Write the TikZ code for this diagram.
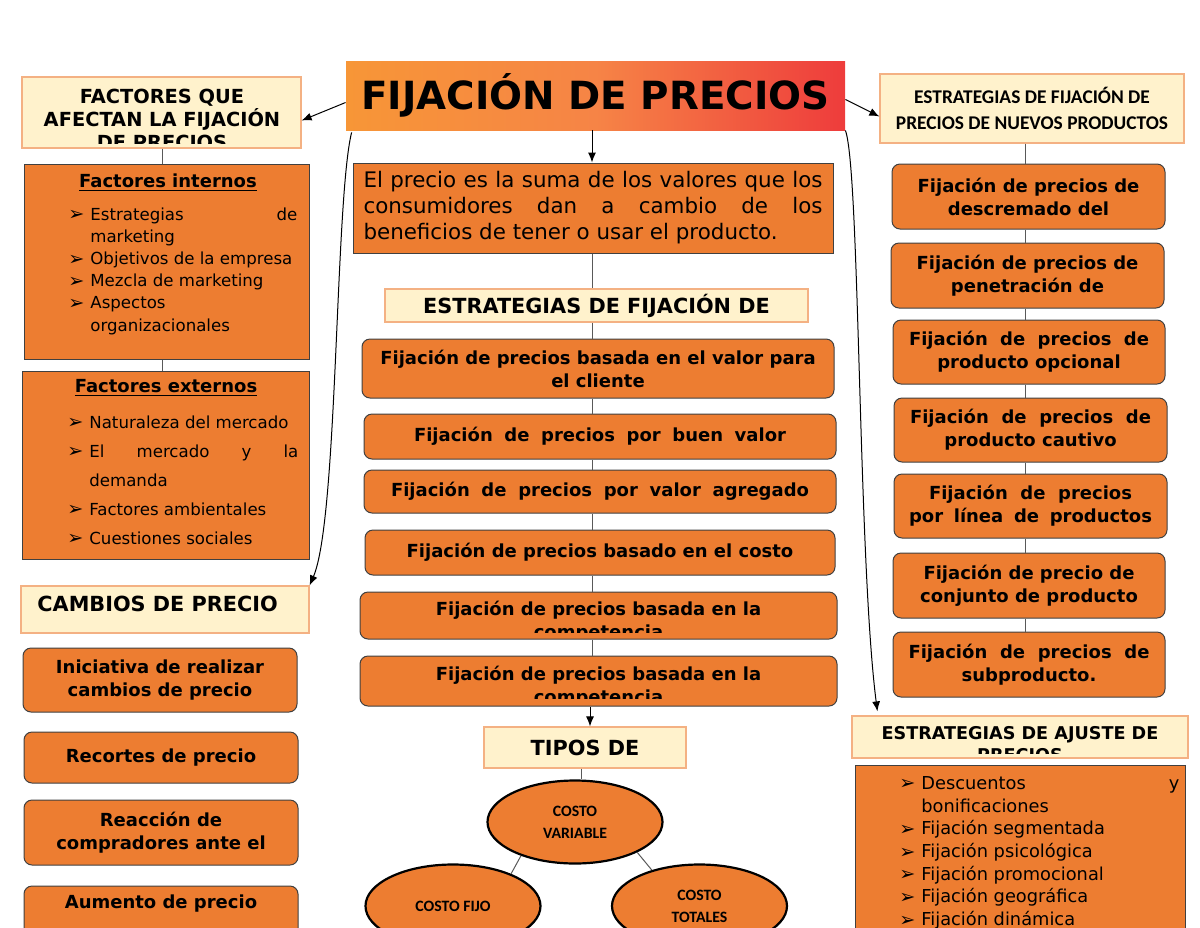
\documentclass[tikz,border=0pt]{standalone}
\usepackage{fontspec}
\setmainfont{DejaVu Sans}
\newfontfamily\calib{Carlito}
\usetikzlibrary{arrows.meta,shapes.geometric}
\definecolor{naranja}{HTML}{ED7D31}
\definecolor{crema}{HTML}{FFF2CC}
\definecolor{bordecrema}{HTML}{F4B183}
\definecolor{bordeoscuro}{HTML}{404040}
\definecolor{tituloizq}{RGB}{247,150,55}
\definecolor{titulomed}{RGB}{246,132,70}
\definecolor{tituloder}{RGB}{238,60,60}
\hyphenpenalty=10000
\newcommand{\spread}[2]{\makebox[#1][s]{#2}}
\newcommand{\blt}{\makebox[11pt][l]{\raisebox{-0.3pt}{\fontsize{9.6}{9.6}\selectfont ➢}}}
\newcommand{\ind}{\makebox[11pt]{}}

\begin{document}
\begin{tikzpicture}[x=0.5pt, y=-0.5pt,
  hdrfont/.style={font=\bfseries\fontsize{10.4}{12}\selectfont},
  hdr/.style={rectangle, draw=bordecrema, fill=crema, line width=0.6pt, inner sep=0pt, hdrfont},
  obox/.style={rectangle, draw=bordeoscuro, fill=naranja, line width=0.5pt, inner sep=0pt},
  rbox/.style={obox, rounded corners=4pt, align=center, font=\bfseries\fontsize{9}{11.5}\selectfont},
  costo/.style={ellipse, draw=black, fill=naranja, line width=1.1pt, inner sep=0pt, align=center,
    minimum width=87.5pt, minimum height=41.5pt, font=\calib\bfseries\fontsize{7.9}{11}\selectfont},
  lista/.style={inner sep=0pt, anchor=north west, align=left, font=\fontsize{8.3}{11.1}\selectfont},
  link/.style={draw=black!65, line width=0.5pt},
  flecha/.style={draw=black, line width=0.5pt, -{Latex[length=5pt,width=4pt]}}]

\useasboundingbox (0,0) rectangle (1200,927);
\clip (0,0) rectangle (1200,927);

\coordinate (ejei) at (162,0);
\coordinate (ejec) at (592,0);
\coordinate (ejet) at (590,0);
\coordinate (ejev) at (581,0);
\coordinate (ejed) at (1025,0);

% titulo
\node[rectangle, left color=tituloizq, right color=tituloder, middle color=titulomed,
  minimum width=249.5pt, minimum height=34.5pt, inner sep=0pt,
  font=\bfseries\fontsize{19.4}{22}\selectfont] (titulo) at (595.5,95.5) {FIJACIÓN DE PRECIOS};

% columna izquierda
\node[hdr, minimum width=139.5pt, minimum height=35.5pt] (hdrfac) at (161.5,112.5) {};
\begin{scope}
  \clip (22,77) rectangle (301,143);
  \node[align=center, inner sep=0pt, font=\bfseries\fontsize{9.7}{11.5}\selectfont] (hdrfactxt) at (162,119)
    {FACTORES QUE\\AFECTAN LA FIJACIÓN\\DE PRECIOS};
\end{scope}

\node[obox, minimum width=142.5pt, minimum height=97.5pt] (interno) at (166.5,261.5) {};
\node[font=\bfseries\fontsize{9}{11}\selectfont] (internotit) at (168,183) {\underline{Factores internos}};
\node[lista] (internolst) at (68,207)
  {\blt\spread{103.5pt}{Estrategias de}\\\ind marketing\\\blt Objetivos de la empresa\\
   \blt Mezcla de marketing\\\blt Aspectos\\\ind organizacionales};

\node[obox, minimum width=143.5pt, minimum height=94pt] (externo) at (165.5,465) {};
\node[font=\bfseries\fontsize{9}{11}\selectfont] (externotit) at (166,388) {\underline{Factores externos}};
\node[lista, font=\fontsize{8.3}{14.5}\selectfont] (externolst) at (67,415)
  {\blt Naturaleza del mercado\\\blt\spread{104.5pt}{El mercado y la}\\\ind demanda\\
   \blt Factores ambientales\\\blt Cuestiones sociales};

\node[hdr, minimum width=144pt, minimum height=23.5pt] (cambios) at (165,609.5) {};
\node[anchor=west, inner sep=0pt, hdrfont] (cambiostxt) at (37,604) {CAMBIOS DE PRECIO};

\node[rbox, minimum width=137pt, minimum height=32pt] (iniciativa) at (160,680) {Iniciativa de realizar\\cambios de precio};
\node[rbox, minimum width=137pt, minimum height=25.5pt] (recortes) at (161,757.5) {Recortes de precio};
\node[rbox, minimum width=137pt, minimum height=32.5pt] (reaccion) at (161,832.5) {Reacción de\\compradores ante el};
\node[rbox, minimum width=137pt, minimum height=32pt] (aumento) at (161,918) {};
\node[font=\bfseries\fontsize{9}{11.5}\selectfont] (aumentotxt) at (161,904) {Aumento de precio};

% columna central
\node[obox, minimum width=240pt, minimum height=45pt, align=left, font=\fontsize{10.7}{13}\selectfont] (defin) at (593,208)
  {\spread{229.5pt}{El precio es la suma de los valores que los}\\
   \spread{229.5pt}{consumidores dan a cambio de los}\\
   beneficios de tener o usar el producto.};

\node[hdr, minimum width=211.5pt, minimum height=16.5pt] (estfij) at (596.5,305.5) {ESTRATEGIAS DE FIJACIÓN DE};

\node[rbox, minimum width=236pt, minimum height=29.5pt] (c1) at (598,368.5) {Fijación de precios basada en el valor para\\el cliente};
\node[rbox, minimum width=236pt, minimum height=22.5pt] (c2) at (600,436.5) {\spread{186pt}{Fijación de precios por buen valor}};
\node[rbox, minimum width=236pt, minimum height=21.5pt] (c3) at (600,491.5) {\spread{209pt}{Fijación de precios por valor agregado}};
\node[rbox, minimum width=235pt, minimum height=22.5pt] (c4) at (600,552.5) {Fijación de precios basado en el costo};
\node[rbox, minimum width=238.5pt, minimum height=23.5pt] (c5) at (598.5,615.5) {};
\node[rbox, minimum width=238.5pt, minimum height=25pt] (c6) at (598.5,681) {};
\begin{scope}
  \clip (360,592) rectangle (837,632);
  \node[align=center, inner sep=0pt, font=\bfseries\fontsize{9}{11.5}\selectfont] (c5txt) at (598.5,622)
    {Fijación de precios basada en la\\competencia};
\end{scope}
\begin{scope}
  \clip (360,656) rectangle (837,698);
  \node[align=center, inner sep=0pt, font=\bfseries\fontsize{9}{11.5}\selectfont] (c6txt) at (598.5,687)
    {Fijación de precios basada en la\\competencia};
\end{scope}

\node[hdr, minimum width=101pt, minimum height=20.5pt] (tipos) at (585,747.5) {TIPOS DE};

\node[costo] (var) at (575,822) {COSTO\\VARIABLE};
\node[costo] (fijo) at (453,906) {COSTO FIJO};
\node[costo] (tot) at (699.5,906) {COSTO\\TOTALES};

% columna derecha
\node[hdr, minimum width=152pt, minimum height=34.5pt, align=center,
  font=\calib\bfseries\fontsize{9.7}{13}\selectfont] (hdrnew) at (1032,108.5)
  {ESTRATEGIAS DE FIJACIÓN DE\\PRECIOS DE NUEVOS PRODUCTOS};

\node[rbox, minimum width=136.5pt, minimum height=32.5pt] (r1) at (1028.5,196.5) {Fijación de precios de\\descremado del};
\node[rbox, minimum width=136.5pt, minimum height=32.5pt] (r2) at (1027.5,275.5) {Fijación de precios de\\penetración de};
\node[rbox, minimum width=136pt, minimum height=32pt] (r3) at (1029,352) {\spread{120pt}{Fijación de precios de}\\producto opcional};
\node[rbox, minimum width=136.5pt, minimum height=32pt] (r4) at (1030.5,430) {\spread{120.5pt}{Fijación de precios de}\\producto cautivo};
\node[rbox, minimum width=136.5pt, minimum height=32pt] (r5) at (1030.5,506) {\spread{101.5pt}{Fijación de precios}\\\spread{121.5pt}{por línea de productos}};
\node[rbox, minimum width=136pt, minimum height=32.5pt] (r6) at (1029,585.5) {Fijación de precio de\\conjunto de producto};
\node[rbox, minimum width=136pt, minimum height=32.5pt] (r7) at (1029,664.5) {\spread{120.5pt}{Fijación de precios de}\\subproducto.};

\node[hdr, minimum width=168pt, minimum height=21pt] (hdradj) at (1020,737) {};
\begin{scope}
  \clip (852,716) rectangle (1188,753);
  \node[align=center, inner sep=0pt, font=\bfseries\fontsize{8.8}{11}\selectfont] (hdradjtxt) at (1020,744)
    {ESTRATEGIAS DE AJUSTE DE\\PRECIOS};
\end{scope}
\node[obox, minimum width=165pt, minimum height=85pt] (ajuste) at (1020,850) {};
\node[lista, font=\fontsize{8.9}{11.35}\selectfont] (ajustelst) at (899,776)
  {\blt\spread{129pt}{Descuentos y}\\\ind bonificaciones\\\blt Fijación segmentada\\
   \blt Fijación psicológica\\\blt Fijación promocional\\\blt Fijación geográfica\\\blt Fijación dinámica};

% conectores
\draw[link] (hdrfac.south -| ejei) -- (interno.north -| ejei);
\draw[link] (interno.south -| ejei) -- (externo.north -| ejei);
\foreach \a/\b in {defin/estfij, estfij/c1, c1/c2, c2/c3, c3/c4, c4/c5, c5/c6}
  \draw[link] (\a.south -| ejec) -- (\b.north -| ejec);
\foreach \a/\b in {hdrnew/r1, r1/r2, r2/r3, r3/r4, r4/r5, r5/r6, r6/r7}
  \draw[link] (\a.south -| ejed) -- (\b.north -| ejed);
\draw[link] (tipos.south -| ejev) -- (var.north -| ejev);
\draw[link] (var.212) -- (fijo.29);
\draw[link] (var.-26) -- (tot.143);

\draw[flecha] (titulo.south -| ejec) -- (defin.north -| ejec);
\draw[flecha] (c6.south -| ejet) -- (tipos.north -| ejet);
\draw[flecha] ([yshift=-3.5pt]titulo.west) -- ([yshift=-4pt]hdrfac.east);
\draw[flecha] ([yshift=-2pt]titulo.east) -- ([yshift=-4pt]hdrnew.west);
\draw[flecha] ([xshift=3pt,yshift=-1pt]titulo.south west) .. controls (335,200) and (338,520) .. (cambios.north east);
\draw[flecha] (titulo.south east) .. controls (860,170) and (858,560) .. ([xshift=13pt,yshift=2pt]hdradj.north west);

\end{tikzpicture}
\end{document}
